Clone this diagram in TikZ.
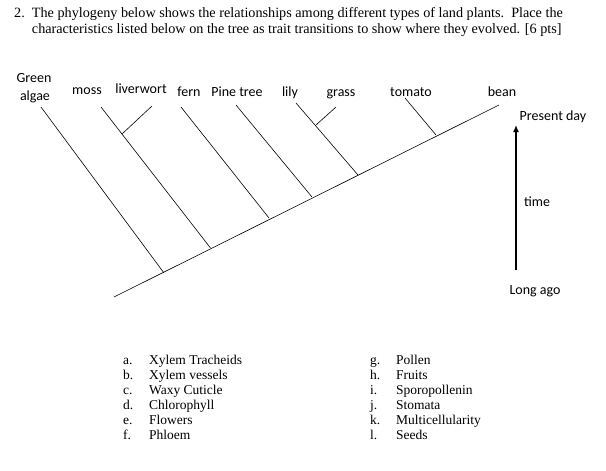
\documentclass[tikz,border=0pt]{standalone}
\usepackage{fontspec}
\usetikzlibrary{arrows.meta}
\setmainfont{Liberation Serif}
\newfontfamily\lab{Carlito}
\begin{document}
\begin{tikzpicture}[x=1pt,y=-1pt,
  br/.style={line width=0.6pt},
  tl/.style={font=\lab\fontsize{14}{16}\selectfont,inner sep=0pt},
  it/.style={font=\fontsize{13.5}{15}\selectfont,anchor=base west,inner sep=0pt}]
\useasboundingbox (0,0) rectangle (606,471);
\node[anchor=west,inner sep=0pt,align=left,font=\fontsize{14.2}{16}\selectfont] (title) at (14,22)
 {2.\ \ The phylogeny below shows the relationships among different types of land plants.\ \ Place the\\
 \hphantom{2.\ \ }characteristics listed below on the tree as trait transitions to show where they evolved. [6 pts]};
% trunk
\coordinate (root) at (114,297);
\coordinate (bean) at (499,105);
\draw[br] (root) -- (bean);
\coordinate (ga) at (41,107); \coordinate (gaj) at (164,273);
\coordinate (mo) at (101,107); \coordinate (moj) at (210.5,248);
\coordinate (lvj) at (122,134); \coordinate (lv) at (152,106);
\coordinate (fe) at (181,107); \coordinate (fej) at (269,218);
\coordinate (pi) at (236,105); \coordinate (pij) at (312,197);
\coordinate (li) at (296,103); \coordinate (lij) at (358,175);
\coordinate (grj) at (316,125); \coordinate (gr) at (336,107);
\coordinate (to) at (405,98); \coordinate (toj) at (436,135);
\foreach \a/\b in {ga/gaj,mo/moj,lvj/lv,fe/fej,pi/pij,li/lij,grj/gr,to/toj} \draw[br] (\a)--(\b);
% labels
\node[tl] (lga1) at (34,78) {Green};
\node[tl] (lga2) at (35,97) {algae};
\node[tl] (lmo) at (87,91) {moss};
\node[tl] (llv) at (141,89) {liverwort};
\node[tl] (lfe) at (189,92) {fern};
\node[tl] (lpi) at (237,92) {Pine tree};
\node[tl] (lli) at (290,93) {lily};
\node[tl] (lgr) at (341,94) {grass};
\node[tl] (lto) at (411,92) {tomato};
\node[tl] (lbe) at (502,92) {bean};
\node[tl] (pd) at (553,117) {Present day};
\node[tl] (tm) at (537,202) {time};
\node[tl] (la) at (535,291) {Long ago};
\coordinate (ab) at (516,270); \coordinate (at) at (516,125);
\draw[line width=2.2pt,-{Latex[length=7pt,width=6pt]}] (ab) -- (at);
% lists
\foreach \l/\t [count=\i] in {a./Xylem Tracheids,b./Xylem vessels,c./Waxy Cuticle,d./Chlorophyll,e./Flowers,f./Phloem}
  {\node[it] (L\i) at (123,{349+15*\i}) {\l}; \node[it] (T\i) at (149,{349+15*\i}) {\t};}
\foreach \l/\t [count=\i] in {g./Pollen,h./Fruits,i./Sporopollenin,j./Stomata,k./Multicellularity,l./Seeds}
  {\node[it] (M\i) at (370,{349+15*\i}) {\l}; \node[it] (U\i) at (396,{349+15*\i}) {\t};}
\end{tikzpicture}
\end{document}
